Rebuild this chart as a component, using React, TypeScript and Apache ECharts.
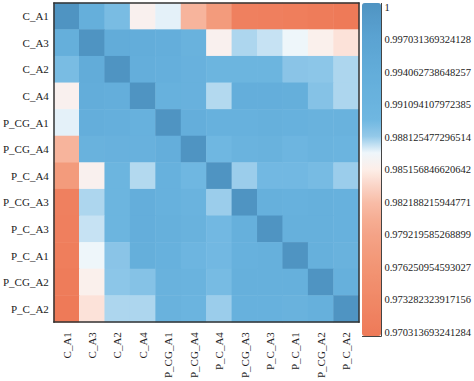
import React, { useEffect, useRef } from "react";
import * as echarts from "echarts";

const names = ["C_A1", "C_A3", "C_A2", "C_A4", "P_CG_A1", "P_CG_A4", "P_C_A4", "P_CG_A3", "P_C_A3", "P_C_A1", "P_CG_A2", "P_C_A2"];

const rowC_A1 = [1, 0.993, 0.9892, 0.9856, 0.9868, 0.9814, 0.9777, 0.9718, 0.9716, 0.9712, 0.9708, 0.970313693241284];
const rowC_A3 = [0.993, 1, 0.994, 0.9938, 0.9932, 0.9915, 0.9856, 0.9877, 0.9873, 0.9866, 0.9855, 0.9845];
const rowC_A2 = [0.9892, 0.994, 1, 0.9932, 0.9928, 0.992, 0.9905, 0.9905, 0.9905, 0.9885, 0.9884, 0.9877];
const rowC_A4 = [0.9856, 0.9938, 0.9932, 1, 0.9922, 0.992, 0.9876, 0.9932, 0.9932, 0.993, 0.9887, 0.9877];
const rowP_CG_A1 = [0.9868, 0.9932, 0.9928, 0.9922, 1, 0.9932, 0.9922, 0.9922, 0.9924, 0.9922, 0.9915, 0.9915];
const rowP_CG_A4 = [0.9814, 0.9915, 0.992, 0.992, 0.9932, 1, 0.9897, 0.991, 0.9915, 0.9903, 0.991, 0.9908];
const rowP_C_A4 = [0.9777, 0.9856, 0.9905, 0.9876, 0.9922, 0.9897, 1, 0.988, 0.9895, 0.9895, 0.9893, 0.988];
const rowP_CG_A3 = [0.9718, 0.9877, 0.9905, 0.9932, 0.9922, 0.991, 0.988, 1, 0.9925, 0.9922, 0.9924, 0.9922];
const rowP_C_A3 = [0.9716, 0.9873, 0.9905, 0.9932, 0.9924, 0.9915, 0.9895, 0.9925, 1, 0.9925, 0.9924, 0.9922];
const rowP_C_A1 = [0.9712, 0.9866, 0.9885, 0.993, 0.9922, 0.9903, 0.9895, 0.9922, 0.9925, 1, 0.9926, 0.9916];
const rowP_CG_A2 = [0.9708, 0.9855, 0.9884, 0.9887, 0.9915, 0.991, 0.9893, 0.9924, 0.9924, 0.9926, 1, 0.9924];
const rowP_C_A2 = [0.970313693241284, 0.9845, 0.9877, 0.9877, 0.9915, 0.9908, 0.988, 0.9922, 0.9922, 0.9916, 0.9924, 1];

const matrix = [rowC_A1, rowC_A3, rowC_A2, rowC_A4, rowP_CG_A1, rowP_CG_A4, rowP_C_A4, rowP_CG_A3, rowP_C_A3, rowP_C_A1, rowP_CG_A2, rowP_C_A2];

const scaleMin = 0.970313693241284;
const scaleMax = 1;
const scaleTicks = [
  "1",
  "0.997031369324128",
  "0.994062738648257",
  "0.991094107972385",
  "0.988125477296514",
  "0.985156846620642",
  "0.982188215944771",
  "0.979219585268899",
  "0.976250954593027",
  "0.973282323917156",
  "0.970313693241284",
];

// colours from min (bottom) to max (top), evenly spaced
const palette = [
  "#ee7a58", "#ef805f", "#f08765", "#f18d6c", "#f29473", "#f39b7c", "#f4a286",
  "#f6ad93", "#f8bca7", "#fad4c6", "#fdeee8", "#eef6fb", "#93c9e9", "#6fb7e1",
  "#6ab3de", "#66b0dc", "#62acd9", "#5ea7d5", "#5aa2d1", "#559bca", "#4f94c2",
];

const FONT = "Liberation Serif";

export default function App() {
  const ref = useRef<HTMLDivElement>(null);
  useEffect(() => {
    if (!ref.current) return;
    const chart = echarts.init(ref.current, undefined, { renderer: "svg" });
    const data: number[][] = [];
    matrix.forEach((row, r) => row.forEach((v, c) => data.push([c, r, v])));
    chart.setOption({
      animation: false,
      backgroundColor: "#ffffff",
      grid: [
        { left: 49, top: 3, width: 310, height: 326 },
        { left: 362, top: 7, width: 19, height: 325 },
      ],
      xAxis: [
        {
          type: "category",
          data: names,
          gridIndex: 0,
          position: "bottom",
          z: 10,
          axisLine: { show: true, lineStyle: { color: "#333", width: 1.5 } },
          axisTick: { show: false },
          splitLine: { show: false },
          axisLabel: { rotate: 90, margin: 10, fontFamily: FONT, fontSize: 11, color: "#222" },
        },
        {
          type: "category",
          data: names,
          gridIndex: 0,
          position: "top",
          z: 10,
          axisLine: { show: true, lineStyle: { color: "#333", width: 1.5 } },
          axisTick: { show: false },
          axisLabel: { show: false },
        },
        { type: "value", gridIndex: 1, show: false },
      ],
      yAxis: [
        {
          type: "category",
          data: names,
          inverse: true,
          gridIndex: 0,
          position: "left",
          z: 10,
          axisLine: { show: true, lineStyle: { color: "#333", width: 1.5 } },
          axisTick: { show: false },
          splitLine: { show: false },
          axisLabel: { margin: 5, fontFamily: FONT, fontSize: 11, color: "#222" },
        },
        {
          type: "category",
          data: names,
          inverse: true,
          gridIndex: 0,
          position: "right",
          z: 10,
          axisLine: { show: true, lineStyle: { color: "#333", width: 1.5 } },
          axisTick: { show: false },
          axisLabel: { show: false },
        },
        {
          type: "category",
          data: scaleTicks,
          inverse: true,
          boundaryGap: false,
          gridIndex: 1,
          position: "right",
          axisLine: { show: false },
          axisTick: { show: false },
          splitLine: { show: false },
          axisLabel: { margin: 7, fontFamily: FONT, fontSize: 10.5, color: "#222" },
        },
      ],
      visualMap: {
        type: "continuous",
        min: scaleMin,
        max: scaleMax,
        calculable: false,
        orient: "vertical",
        left: 362,
        top: 3,
        padding: 0,
        itemWidth: 19,
        itemHeight: 333,
        seriesIndex: 0,
        inRange: { color: palette },
      },
      graphic: [
        {
          type: "polyline",
          z: 100,
          shape: { points: [[381.5, 3], [381.5, 336.5], [362, 336.5]] },
          style: { stroke: "#444", lineWidth: 1, fill: "none" },
        },
      ],
      series: [
        {
          type: "heatmap",
          xAxisIndex: 0,
          yAxisIndex: 0,
          data,
          itemStyle: { borderWidth: 0 },
          emphasis: { disabled: true },
        },
      ],
    });
    return () => chart.dispose();
  }, []);
  return <div ref={ref} style={{ width: 474, height: 381, position: "absolute", left: 0, top: 0 }} />;
}
